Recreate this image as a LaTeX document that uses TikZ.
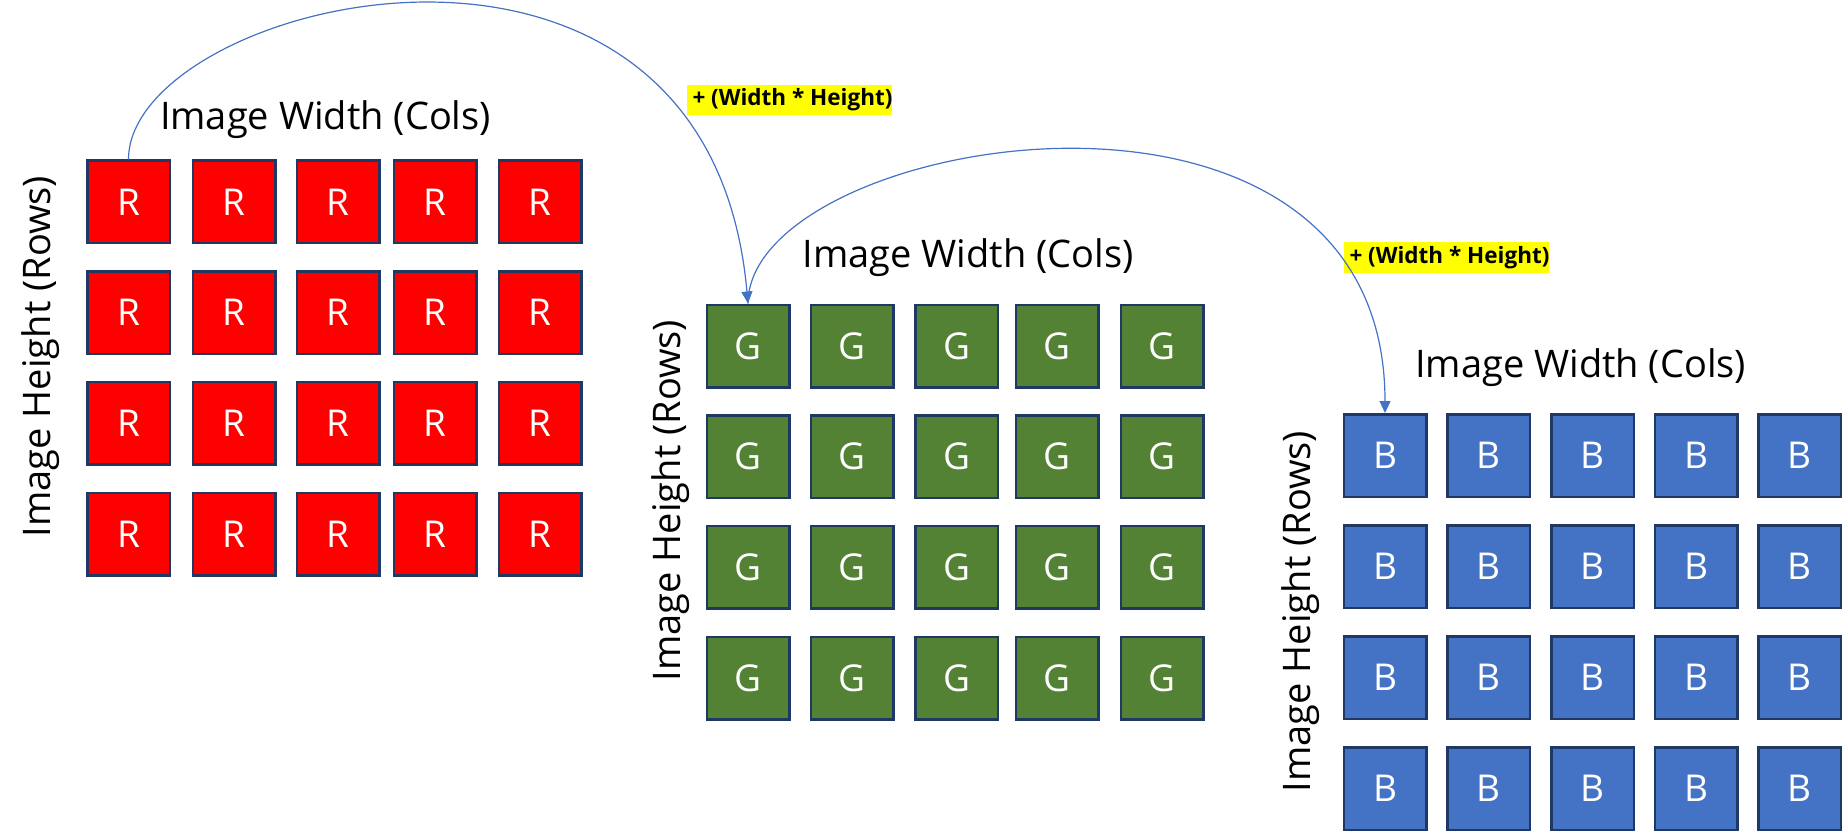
\documentclass[tikz,border=0pt]{standalone}
\usepackage{fontspec}
\setmainfont{Open Sans}
\usetikzlibrary{arrows.meta}
\definecolor{pixred}{HTML}{FF0000}
\definecolor{pixgreen}{HTML}{548235}
\definecolor{pixblue}{HTML}{4472C4}
\definecolor{pixedge}{HTML}{1F3864}
\definecolor{hilite}{HTML}{FFFF00}

\begin{document}
\begin{tikzpicture}[x=1pt, y=-1pt,
    pixel/.style={draw=pixedge, line width=2.5pt, minimum size=82.5pt, inner sep=0pt, text=white, font=\fontsize{37}{44}\selectfont},
    lbl/.style={anchor=base, font=\fontsize{38}{46}\selectfont},
    offs/.style={fill=hilite, minimum width=205pt, minimum height=30pt, inner sep=0pt, font=\bfseries\fontsize{22.5}{27}\selectfont},
    jump/.style={draw=pixblue, line width=1.2pt, -{Triangle[width=11pt, length=12pt]}}]
    \useasboundingbox (0,0) rectangle (1843,834);

    \foreach \x [count=\i] in {128.5, 234, 338, 435, 540}
        \foreach \y [count=\j] in {202, 312.5, 423, 534}
            \node[pixel, fill=pixred] (r\j\i) at (\x, \y) {R};
    \foreach \x [count=\i] in {748, 852, 956.7, 1057, 1162}
        \foreach \y [count=\j] in {346, 456.5, 567, 678}
            \node[pixel, fill=pixgreen] (g\j\i) at (\x, \y) {G};
    \foreach \x [count=\i] in {1385, 1488.5, 1592.5, 1696, 1799.5}
        \foreach \y [count=\j] in {455.5, 566.5, 677.5, 788.5}
            \node[pixel, fill=pixblue] (b\j\i) at (\x, \y) {B};

    \node[lbl] (rcols) at (325.5, 130) {Image Width (Cols)};
    \node[lbl] (gcols) at (968, 267) {Image Width (Cols)};
    \node[lbl] (bcols) at (1580.6, 377) {Image Width (Cols)};
    \node[lbl, rotate=90] (rrows) at (50, 356.5) {Image Height (Rows)};
    \node[lbl, rotate=90] (grows) at (680, 500.5) {Image Height (Rows)};
    \node[lbl, rotate=90] (brows) at (1310, 611.5) {Image Height (Rows)};

    \node[offs] (rtog) at (789.5, 100) {\hspace{6pt}+ (Width * Height)};
    \node[offs] (gtob) at (1446.5, 257.5) {\hspace{6pt}+ (Width * Height)};

    \draw[jump] (r11.north) .. controls +(0,-160) and +(-40,-448) .. (g11.north);
    \draw[jump] (g11.north) .. controls +(0,-169) and +(0,-387) .. (b11.north);
\end{tikzpicture}
\end{document}
